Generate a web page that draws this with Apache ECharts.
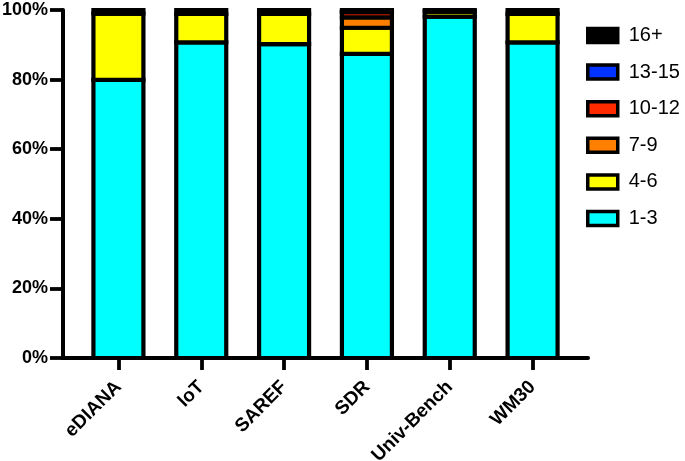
<!DOCTYPE html>
<html>
<head>
<meta charset="utf-8">
<script src="https://cdn.jsdelivr.net/npm/echarts@6/dist/echarts.min.js"></script>
<style>
  html, body { margin: 0; padding: 0; background: #fff; }
  #chart { width: 685px; height: 461px; }
</style>
</head>
<body>
<div id="chart"></div>
<script>
// datasets (x axis)
const categories = ['eDIANA', 'IoT', 'SAREF', 'SDR', 'Univ-Bench', 'WM30']
// percentage of each group
const g1to3 = [79.9, 90.7, 90.2, 87.4, 98.1, 90.7]
const g4to6 = [19.1, 8.2, 8.7, 7.5, 1.5, 8.2]
const g7to9 = [0, 0, 0, 3.0, 0, 0]
const g10to12 = [0, 0, 0, 1.5, 0, 0]
const g13to15 = [0, 0, 0, 0.1, 0, 0]
const g16plus = [1.0, 1.1, 1.1, 0.5, 0.4, 1.1]
const yTicks = [0, 20, 40, 60, 80, 100]

const groups = [
  { name: '1-3', data: g1to3, color: '#00FFFF' },
  { name: '4-6', data: g4to6, color: '#FFFF00' },
  { name: '7-9', data: g7to9, color: '#FF8000' },
  { name: '10-12', data: g10to12, color: '#FF2A00' },
  { name: '13-15', data: g13to15, color: '#0033FF' },
  { name: '16+', data: g16plus, color: '#000000' }
]

const font = 'Liberation Sans, Arial, sans-serif'
const barWidth = 50
const edge = 4.2

// stacked segment, outline centred on the edges like the original plot
function renderSegment (params, api) {
  const idx = params.dataIndex
  let base = 0
  for (let k = 0; k < params.seriesIndex; k++) base += groups[k].data[idx]
  const top = api.coord([idx, base + api.value(1)])
  const bottom = api.coord([idx, base])
  return {
    type: 'rect',
    shape: {
      x: top[0] - barWidth / 2,
      y: top[1],
      width: barWidth,
      height: bottom[1] - top[1]
    },
    style: {
      fill: api.visual('color'),
      stroke: '#000',
      lineWidth: edge
    }
  }
}

const option = {
  animation: false,
  backgroundColor: '#fff',
  textStyle: { fontFamily: font },
  legend: {
    orient: 'vertical',
    left: 586,
    top: 25.5,
    padding: 0,
    icon: 'rect',
    itemWidth: 30,
    itemHeight: 14,
    itemGap: 16.6,
    data: groups.map(g => g.name).reverse(),
    itemStyle: { borderColor: '#000', borderWidth: 3.5 },
    textStyle: {
      fontFamily: font,
      fontSize: 20,
      lineHeight: 20,
      color: '#000',
      padding: [0, 0, 0, 6]
    }
  },
  grid: [
    { left: 77, right: 111, top: 10, bottom: 103, outerBoundsMode: 'none' },
    { left: 63, right: 97, top: 10, bottom: 103, outerBoundsMode: 'none' }
  ],
  xAxis: [
    {
      type: 'category',
      gridIndex: 0,
      data: categories,
      axisLine: { show: false },
      axisTick: {
        show: true,
        alignWithLabel: true,
        length: 12,
        lineStyle: { color: '#000', width: 3.8 }
      },
      axisLabel: {
        interval: 0,
        rotate: 45,
        margin: 26,
        fontFamily: font,
        fontSize: 19,
        fontWeight: 'bold',
        color: '#000'
      }
    },
    {
      // only carries the long base line of the plot
      type: 'value',
      gridIndex: 1,
      min: 0,
      max: 1,
      axisLine: { show: true, lineStyle: { color: '#000', width: 4 } },
      axisTick: { show: false },
      axisLabel: { show: false },
      splitLine: { show: false }
    }
  ],
  yAxis: [
    {
      type: 'value',
      gridIndex: 0,
      min: yTicks[0],
      max: yTicks[yTicks.length - 1],
      interval: 20,
      offset: 14,
      axisLine: { show: true, lineStyle: { color: '#000', width: 4 } },
      axisTick: {
        show: true,
        length: 13,
        lineStyle: { color: '#000', width: 3.8 }
      },
      axisLabel: {
        formatter: '{value}%',
        margin: 15,
        fontFamily: font,
        fontSize: 18,
        fontWeight: 'bold',
        color: '#000'
      },
      splitLine: { show: false }
    },
    {
      type: 'value',
      gridIndex: 1,
      min: 0,
      max: 1,
      show: false
    }
  ],
  series: groups.map(g => ({
    name: g.name,
    type: 'custom',
    xAxisIndex: 0,
    yAxisIndex: 0,
    renderItem: renderSegment,
    encode: { x: 0, y: 1 },
    data: g.data.map((v, i) => [i, v]),
    itemStyle: {
      color: g.color,
      borderColor: '#000',
      borderWidth: edge
    }
  }))
}

const chart = echarts.init(document.getElementById('chart'))
chart.setOption(option)
</script>
</body>
</html>
